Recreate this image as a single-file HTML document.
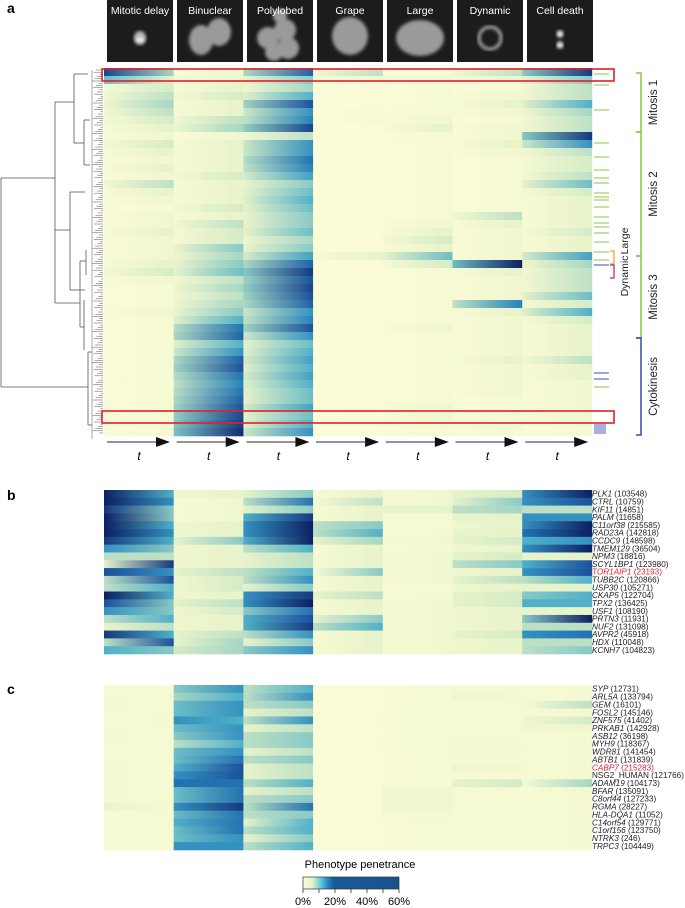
<!DOCTYPE html>
<html><head><meta charset="utf-8"><style>
html,body{margin:0;padding:0;background:#fff;}
svg{display:block;font-family:"Liberation Sans",sans-serif;}
</style></head><body>
<svg id="fig" width="685" height="908" viewBox="0 0 685 908" xmlns="http://www.w3.org/2000/svg">
<defs>
<linearGradient id="cbar" x1="0" x2="1" y1="0" y2="0">
<stop offset="0" stop-color="#fcfcd9"/><stop offset="0.1" stop-color="#e4f2c8"/><stop offset="0.2" stop-color="#4fc0dc"/><stop offset="0.25" stop-color="#2b8ec4"/><stop offset="0.32" stop-color="#1b5a98"/><stop offset="1" stop-color="#17528f"/>
</linearGradient>
<filter id="blur1"><feGaussianBlur stdDeviation="1.6"/></filter>
</defs>
<text x="7" y="13" font-size="14" font-weight="bold">a</text>
<text x="7" y="500" font-size="14" font-weight="bold">b</text>
<text x="7" y="694" font-size="14" font-weight="bold">c</text>
<g id="thumbs"></g>
<g id="dendro" stroke="#555" stroke-width="0.8" fill="none"></g>
<g id="heatA"></g>
<g id="sideMarks"></g>
<g id="brackets"></g>
<g id="arrows"></g>
<g id="heatB"></g>
<g id="heatC"></g>
<g id="legend">
<text x="360" y="868" font-size="11" text-anchor="middle">Phenotype penetrance</text>
<rect x="303" y="877" width="96" height="12" fill="url(#cbar)" stroke="#333" stroke-width="0.7"/>
</g>
</svg>
<script>
// ---------- data ----------
const phenotypes = ["Mitotic delay","Binuclear","Polylobed","Grape","Large","Dynamic","Cell death"];
// panel a: 46 row bands per phenotype (fraction of 60% penetrance)
const aMitoticDelay=[.85,.45,.25,.3,.35,.3,.25,.2,.15,.25,.2,.15,.2,.15,.3,.2,.15,.1,.15,.15,.2,.15,.15,.15,.2,.25,.15,.1,.1,.1,.15,.1,.1,.1,.1,.1,.1,.1,.1,.1,.1,.1,.1,.1,.1,.1];
const aBinuclear=[.15,.15,.2,.25,.2,.2,.3,.35,.15,.2,.2,.2,.2,.25,.2,.2,.2,.25,.2,.3,.25,.25,.4,.35,.4,.45,.3,.35,.3,.35,.4,.5,.7,.75,.5,.6,.75,.8,.7,.65,.7,.75,.8,.85,.9,.95];
const aPolylobed=[.75,.4,.35,.5,.8,.6,.65,.85,.3,.6,.6,.7,.65,.55,.4,.45,.5,.45,.4,.4,.45,.35,.4,.55,.75,.9,.8,.85,.8,.75,.6,.65,.8,.6,.45,.5,.55,.5,.55,.5,.45,.45,.55,.45,.5,.6];
const aGrape=[.3,.1,.05,.05,.05,.08,.1,.05,.03,.03,.03,.03,.03,.03,.03,.03,.03,.03,.03,.03,.03,.03,.05,.2,.05,.03,.03,.03,.03,.03,.03,.03,.03,.03,.03,.03,.03,.03,.03,.03,.03,.03,.03,.03,.03,.03];
const aLarge=[.1,.1,.1,.1,.1,.12,.15,.2,.12,.1,.1,.1,.1,.1,.1,.1,.1,.1,.1,.15,.2,.25,.2,.45,.25,.1,.1,.1,.1,.1,.1,.1,.15,.1,.1,.1,.1,.1,.1,.1,.1,.1,.15,.15,.1,.1];
const aDynamic=[.3,.15,.1,.15,.2,.15,.1,.15,.15,.2,.15,.1,.1,.1,.1,.1,.1,.1,.3,.2,.15,.15,.15,.15,1,.2,.15,.15,.15,.65,.2,.15,.15,.15,.15,.15,.2,.15,.15,.15,.15,.1,.1,.1,.15,.1];
const aCellDeath=[.9,.4,.3,.3,.5,.35,.3,.3,.9,.6,.3,.25,.25,.3,.45,.25,.2,.2,.2,.2,.25,.2,.2,.55,.35,.3,.3,.3,.45,.25,.5,.25,.2,.2,.2,.2,.3,.2,.2,.15,.15,.15,.15,.15,.1,.1];

// panel b genes and [start,end] values per phenotype
const bGenes=["PLK1","CTRL","KIF11","PALM","C11orf38","RAD23A","CCDC9","TMEM129","NPM3","SCYL1BP1","TOR1AIP1","TUBB2C","USP30","CKAP5","TPX2","USF1","PRTN3","NUF2","AVPR2","HDX","KCNH7"];
const bIds=["103548","10759","14851","11658","215585","142818","148598","36504","18816","123980","23193","120866","105271","122704","136425","108190","11931","131098","45918","110048","104823"];
const bMitoticDelay=[[1,.5],[1,.6],[.9,.4],[1,.4],[1,.5],[1,.6],[.9,.5],[.6,.4],[.3,.3],[.2,.9],[.8,.6],[.3,.8],[.3,.5],[1,.5],[.8,.4],[.6,.4],[.3,.5],[.2,.3],[.9,.5],[.3,.8],[.5,.4]];
const bBinuclear=[[.15,.2],[.1,.15],[.1,.15],[.1,.15],[.15,.2],[.15,.2],[.2,.4],[.15,.2],[.15,.2],[.15,.2],[.2,.3],[.15,.25],[.15,.25],[.15,.2],[.2,.3],[.15,.25],[.15,.2],[.15,.2],[.2,.3],[.2,.35],[.25,.35]];
const bPolylobed=[[.2,.4],[.3,.7],[.2,.4],[.5,.9],[.6,1],[.6,1],[.5,1],[.3,.5],[.2,.3],[.2,.3],[.3,.5],[.3,.6],[.2,.4],[.6,.9],[.6,1],[.4,.7],[.5,.8],[.5,.9],[.3,.6],[.2,.4],[.4,.6]];
const bGrape=[[.1,.2],[.1,.3],[.1,.2],[.1,.2],[.3,.4],[.3,.5],[.2,.35],[.1,.2],[.1,.2],[.1,.2],[.1,.4],[.1,.2],[.1,.2],[.2,.3],[.1,.2],[.1,.2],[.2,.4],[.3,.5],[.1,.2],[.1,.2],[.1,.2]];
const bLarge=[[.12,.15],[.12,.15],[.2,.2],[.1,.12],[.08,.1],[.1,.12],[.12,.15],[.1,.12],[.12,.15],[.12,.15],[.12,.15],[.12,.15],[.08,.1],[.1,.12],[.12,.15],[.12,.15],[.12,.15],[.12,.15],[.12,.15],[.12,.15],[.12,.15]];
const bDynamic=[[.2,.25],[.2,.4],[.3,.35],[.2,.2],[.15,.2],[.2,.2],[.2,.25],[.15,.2],[.2,.25],[.3,.4],[.15,.2],[.2,.3],[.15,.2],[.2,.25],[.2,.25],[.15,.2],[.15,.2],[.15,.2],[.2,.25],[.15,.2],[.15,.2]];
const bCellDeath=[[.6,1],[.6,.8],[.3,.3],[.6,.6],[.6,1],[.7,1],[.5,.6],[.6,1],[.2,.2],[.5,.8],[.6,.8],[.3,.5],[.2,.2],[.4,.5],[.5,.5],[.2,.2],[.4,1],[.3,.3],[.6,.7],[.3,.3],[.3,.4]];

// panel c
const cGenes=["SYP","ARL5A","GEM","FOSL2","ZNF575","PRKAB1","ASB12","MYH9","WDR81","ABTB1","CABP7","NSG2_HUMAN","ADAM19","BFAR","C8orf44","RGMA","HLA-DQA1","C14orf54","C1orf156","NTRK3","TRPC3"];
const cIds=["12731","133794","16101","145146","41402","142928","36198","118367","141454","131839","215283","121766","104173","135091","127233","28227","11052","129771","123750","246","104449"];
const cMitoticDelay=[[.1,.1],[.1,.1],[.12,.1],[.1,.1],[.1,.12],[.1,.1],[.12,.1],[.1,.1],[.1,.1],[.1,.1],[.12,.1],[.1,.1],[.12,.1],[.1,.1],[.12,.1],[.18,.1],[.1,.1],[.1,.1],[.1,.1],[.1,.1],[.1,.1]];
const cBinuclear=[[.4,.6],[.35,.5],[.45,.6],[.45,.6],[.6,.5],[.45,.6],[.4,.6],[.3,.5],[.45,.6],[.45,.7],[.5,.8],[.6,.8],[.7,.7],[.45,.7],[.45,.7],[.6,.9],[.45,.7],[.5,.7],[.45,.7],[.45,.6],[.6,.6]];
const cPolylobed=[[.3,.5],[.3,.6],[.3,.4],[.2,.3],[.3,.6],[.2,.3],[.3,.4],[.3,.4],[.2,.3],[.3,.4],[.2,.3],[.2,.3],[.3,.5],[.2,.3],[.3,.4],[.3,.7],[.3,.4],[.2,.5],[.3,.5],[.2,.4],[.3,.5]];
const cGrape=[[.03,.05],[.03,.05],[.03,.05],[.03,.05],[.03,.05],[.03,.05],[.03,.05],[.03,.05],[.03,.05],[.03,.05],[.03,.05],[.03,.05],[.03,.05],[.03,.05],[.03,.05],[.03,.05],[.03,.05],[.03,.05],[.03,.05],[.03,.05],[.03,.05]];
const cLarge=[[.08,.1],[.08,.1],[.08,.1],[.08,.1],[.1,.1],[.08,.1],[.08,.1],[.1,.1],[.08,.1],[.08,.1],[.08,.1],[.08,.1],[.08,.1],[.15,.15],[.15,.15],[.15,.15],[.12,.12],[.08,.1],[.08,.1],[.08,.1],[.08,.1]];
const cDynamic=[[.1,.1],[.15,.12],[.1,.1],[.1,.1],[.1,.1],[.1,.1],[.1,.1],[.12,.12],[.12,.12],[.1,.1],[.15,.15],[.1,.1],[.2,.25],[.1,.1],[.1,.1],[.1,.1],[.1,.1],[.1,.1],[.1,.1],[.1,.1],[.1,.1]];
const cCellDeath=[[.1,.12],[.1,.12],[.1,.3],[.1,.12],[.15,.25],[.15,.15],[.1,.12],[.1,.12],[.1,.12],[.1,.12],[.1,.12],[.1,.12],[.1,.35],[.1,.12],[.1,.12],[.1,.12],[.1,.12],[.1,.12],[.1,.12],[.1,.12],[.1,.12]];

const colorbarTicks=["0%","20%","40%","60%"];

// ---------- helpers ----------
const NS="http://www.w3.org/2000/svg";
function mk(tag,attrs,parent){const e=document.createElementNS(NS,tag);for(const k in attrs)e.setAttribute(k,attrs[k]);parent.appendChild(e);return e;}
const cmapStops=[[0,[252,252,217]],[.12,[245,249,210]],[.22,[228,241,200]],[.35,[165,214,195]],[.5,[80,176,200]],[.65,[38,130,188]],[.8,[27,81,156]],[1,[12,32,98]]];
function cmap(v){v=Math.max(0,Math.min(1,v));for(let i=1;i<cmapStops.length;i++){const [p1,c1]=cmapStops[i];const [p0,c0]=cmapStops[i-1];if(v<=p1){const t=(v-p0)/(p1-p0);return "rgb("+c0.map((c,j)=>Math.round(c+(c1[j]-c)*t)).join(",")+")";}}return "rgb(12,32,98)";}
const defs=document.querySelector("defs");
let gid=0;
function gradFill(s,e){const id="g"+(gid++);const g=mk("linearGradient",{id:id,x1:0,x2:1,y1:0,y2:0},defs);mk("stop",{offset:0,"stop-color":cmap(s)},g);mk("stop",{offset:1,"stop-color":cmap(e)},g);return "url(#"+id+")";}
const colX0=104, colW=69.7;
function xCol(i){return colX0+i*colW;}

// ---------- thumbnails ----------
const thumbs=document.getElementById("thumbs");
phenotypes.forEach((p,i)=>{
  const x=107+i*70;
  const g=mk("g",{},thumbs);
  
  
  mk("rect",{x:x,y:0,width:66,height:62,fill:"#1c1c1c"},g);
  const cx=x+33, cy=38;
  const blob=mk("g",{fill:"#9a9a9a",filter:"url(#blur1)"},g);
  if(i===0){mk("ellipse",{cx:cx,cy:cy,rx:6,ry:7,fill:"#bbb"},blob);mk("ellipse",{cx:cx,cy:cy+2,rx:5,ry:2,fill:"#eee"},blob);}
  if(i===1){mk("ellipse",{cx:cx-9,cy:cy+2,rx:12,ry:15},blob);mk("ellipse",{cx:cx+9,cy:cy-6,rx:12,ry:14},blob);}
  if(i===2){mk("circle",{cx:cx-12,cy:cy,r:11},blob);mk("circle",{cx:cx+5,cy:cy-8,r:11},blob);mk("circle",{cx:cx+8,cy:cy+10,r:11},blob);mk("circle",{cx:cx-6,cy:cy+14,r:9},blob);mk("circle",{cx:cx,cy:cy-22,r:7},blob);}
  if(i===3){mk("ellipse",{cx:cx,cy:cy-2,rx:18,ry:19},blob);}
  if(i===4){mk("ellipse",{cx:cx,cy:cy,rx:24,ry:18},blob);}
  if(i===5){mk("circle",{cx:cx,cy:cy,r:11,fill:"none",stroke:"#aaa","stroke-width":3},blob);}
  if(i===6){mk("circle",{cx:cx,cy:cy-4,r:3.5,fill:"#eee"},blob);mk("circle",{cx:cx,cy:cy+7,r:3.5,fill:"#eee"},blob);}
  const t=mk("text",{x:cx,y:14,"font-size":"10.5",fill:"#fff","text-anchor":"middle"},g);t.textContent=p;
  
  
});

// ---------- panel a heatmap ----------
const heatA=document.getElementById("heatA");
const aCols=[aMitoticDelay,aBinuclear,aPolylobed,aGrape,aLarge,aDynamic,aCellDeath];
const aTop=68, aBand=8;
aCols.forEach((vals,c)=>{
  vals.forEach((v,r)=>{
    const s = c===0 && r<2 ? v : v*0.45;
    const e = c===0 && r<2 ? v*0.4 : v;
    const rc=mk("rect",{x:xCol(c),y:aTop+r*aBand,width:colW+0.3,height:aBand+0.3,fill:gradFill(s,e)},heatA);
    
    
  });
});
const rb1=mk("rect",{x:102,y:69,width:512,height:12,fill:"none",stroke:"#e0202a","stroke-width":1.6},heatA);


const rb2=mk("rect",{x:102,y:411,width:512,height:12,fill:"none",stroke:"#e0202a","stroke-width":1.6},heatA);



// ---------- dendrogram ----------
const dendro=document.getElementById("dendro");
const dSegs=[[1,178,1,387],[1,178,55,178],[1,387,88,387],[55,102,55,303],[55,102,74,102],[55,303,80,303],[74,74,74,143],[74,74,88,74],[74,143,84,143],[80,261,80,327],[80,261,86,261],[80,327,84,327],[84,120,84,165],[84,165,90,165],[84,120,90,120],[70,192,70,290],[55,230,70,230],[70,192,85,192],[70,290,85,290],[88,352,88,425],[88,352,92,352],[88,425,92,425],[84,300,84,350],[86,250,86,275]];
dSegs.forEach(s=>{mk("line",{x1:s[0],y1:s[1],x2:s[2],y2:s[3]},dendro);});
for(let y=70;y<434;y+=2.2){mk("line",{x1:92+((y*7)%9),y1:y,x2:103,y2:y,"stroke-width":0.5},dendro);}
for(let y=70;y<434;y+=9){mk("line",{x1:92,y1:y,x2:92,y2:y+9,"stroke-width":0.5},dendro);}



// ---------- side marks ----------
const sideMarks=document.getElementById("sideMarks");
const greenMarks=[74,85,110,143,157,170,178,183,193,197,200,207,217,223,227,233,242,252,260,387];
const blueMarks=[265,373,379];
greenMarks.forEach(y=>{const l=mk("line",{x1:594,y1:y,x2:609,y2:y,stroke:"#8cc63f","stroke-width":1},sideMarks);});
blueMarks.forEach(y=>{const l=mk("line",{x1:594,y1:y,x2:609,y2:y,stroke:"#3a4fb0","stroke-width":1},sideMarks);});
const lav=mk("rect",{x:594,y:424,width:12,height:10,fill:"#a8b0e0"},sideMarks);



// ---------- brackets ----------
const brk=document.getElementById("brackets");
const clusters=[["Mitosis 1",73,132,"#8cc63f"],["Mitosis 2",132,256,"#8cc63f"],["Mitosis 3",256,338,"#8cc63f"],["Cytokinesis",338,435,"#3548a8"]];
clusters.forEach(c=>{
  const p=mk("path",{d:`M636 ${c[1]} H641 V${c[2]} H636`,fill:"none",stroke:c[3],"stroke-width":1.5},brk);
  
  
  const my=(c[1]+c[2])/2;
  const t=mk("text",{x:0,y:0,"font-size":"11.5",fill:"#222","text-anchor":"middle",transform:`translate(657 ${my}) rotate(-90)`},brk);
  t.textContent=c[0];
  
  
});
const sub=[["Large",251,264,"#f0a030",241],["Dynamic",265,278,"#c0288a",276]];
sub.forEach(c=>{
  const p=mk("path",{d:`M610 ${c[1]} H614 V${c[2]} H610`,fill:"none",stroke:c[3],"stroke-width":1.3},brk);
  
  
  const t=mk("text",{x:0,y:0,"font-size":"10.5",fill:"#222","text-anchor":"middle",transform:`translate(628 ${c[4]}) rotate(-90)`},brk);
  t.textContent=c[0];
  
  
});

// ---------- time arrows ----------
const arrows=document.getElementById("arrows");
phenotypes.forEach((p,i)=>{
  const x=xCol(i);
  const g=mk("g",{},arrows);
  
  
  mk("line",{x1:x+3,y1:442,x2:x+52,y2:442,stroke:"#555","stroke-width":1.2},g);
  mk("path",{d:`M${x+52} 437 L${x+66} 442 L${x+52} 447 Z`,fill:"#111"},g);
  const t=mk("text",{x:x+35,y:460,"font-size":"12","font-style":"italic","text-anchor":"middle"},g);t.textContent="t";
});

// ---------- panels b, c ----------
function drawPanel(gEl,cols,genes,ids,top,h,redIdx,name){
  cols.forEach((vals,c)=>{
    vals.forEach((v,r)=>{
      const rc=mk("rect",{x:xCol(c),y:top+r*h,width:colW+0.3,height:h+0.3,fill:gradFill(v[0],v[1])},gEl);
      
      
    });
  });
  const n=genes.length, lh=(h*cols[0].length)/n;
  genes.forEach((g,r)=>{
    const t=mk("text",{x:592,y:top+(r+0.85)*lh,"font-size":"8.2",fill:r===redIdx?"#e02030":"#222"},gEl);
    const ts=mk("tspan",{"font-style":g.indexOf("_")>0?"normal":"italic"},t);ts.textContent=g;
    const ts2=mk("tspan",{},t);ts2.textContent=" ("+ids[r]+")";
    
    
  });
}
drawPanel(document.getElementById("heatB"),[bMitoticDelay,bBinuclear,bPolylobed,bGrape,bLarge,bDynamic,bCellDeath],bGenes,bIds,490,164/21,10,"heatmap-b");
drawPanel(document.getElementById("heatC"),[cMitoticDelay,cBinuclear,cPolylobed,cGrape,cLarge,cDynamic,cCellDeath],cGenes,cIds,685,165/21,10,"heatmap-c");

// ---------- colorbar ticks ----------
const leg=document.getElementById("legend");
for(let k=0;k<=6;k++){const x=303+k*16;const l=mk("line",{x1:x,y1:889,x2:x,y2:893,stroke:"#333","stroke-width":0.8},leg);}
colorbarTicks.forEach((lab,k)=>{const t=mk("text",{x:303+k*32,y:905,"font-size":"11","text-anchor":"middle"},leg);t.textContent=lab;});
</script>
</body></html>
